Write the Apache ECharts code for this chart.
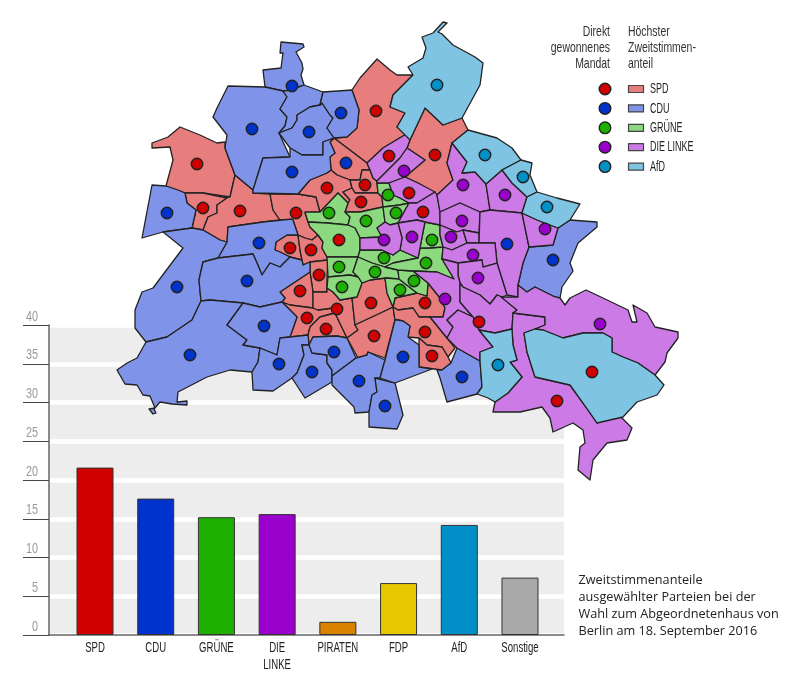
<!DOCTYPE html>
<html>
<head>
<meta charset="utf-8">
<title>Abgeordnetenhaus Berlin 2016</title>
<script src="https://cdn.jsdelivr.net/npm/echarts@6/dist/echarts.min.js"></script>
<style>
html, body { margin: 0; padding: 0; background: #fff; }
#chart { width: 800px; height: 678px; }
</style>
</head>
<body>
<div id="chart"></div>
<script>
// bar chart
var partyLabels = ['SPD', 'CDU', 'GRÜNE', 'DIE\nLINKE', 'PIRATEN', 'FDP', 'AfD', 'Sonstige'];
var voteShares = [21.6, 17.6, 15.2, 15.6, 1.7, 6.7, 14.2, 7.4];
var barColors = ['#d10000', '#0033cc', '#1eb000', '#9900cc', '#d98200', '#e6c700', '#008fc7', '#a9a9a9'];
var tickValues = [0, 5, 10, 15, 20, 25, 30, 35, 40];

// legend
var legendParties = ['SPD', 'CDU', 'GRÜNE', 'DIE LINKE', 'AfD'];
var fillColors = ['#e87d7d', '#7f94e8', '#8cd97f', '#cc7ae6', '#7fc4e3'];
var dotColors = ['#d10000', '#0033cc', '#1eb000', '#9900cc', '#008fc7'];

// Wahlkreise by highest Zweitstimmen share, outlines in map units
var spdDistricts = [
    [[352,90],[360,78],[377,59],[390,70],[397,75],[413,75],[393,95],[390,107],[405,113],[397,127],[408,133],[383,148],[367,163],[334,138],[347,137],[357,128],[359,110]],
    [[425,108],[443,125],[462,118],[468,130],[452,143],[447,163],[453,180],[437,195],[418,183],[405,177],[425,160],[407,148],[410,140]],
    [[334,138],[367,163],[370,170],[362,170],[360,180],[350,180],[337,175],[331,170],[330,157],[335,153],[330,142]],
    [[152,143],[168,137],[180,127],[200,135],[217,143],[225,142],[225,148],[235,175],[230,197],[203,193],[185,193],[166,186],[173,160],[170,147],[152,148]],
    [[185,193],[203,193],[227,198],[217,205],[217,213],[208,217],[203,230],[192,228],[196,210],[187,203]],
    [[235,175],[253,190],[253,193],[270,194],[273,210],[280,220],[263,222],[228,227],[227,242],[220,240],[203,230],[208,217],[217,213],[217,205],[227,198],[230,197]],
    [[270,194],[298,194],[316,197],[320,212],[305,213],[310,227],[318,235],[312,240],[305,238],[298,235],[293,220],[280,220],[273,210]],
    [[298,194],[310,180],[327,173],[331,170],[337,175],[350,180],[352,188],[343,192],[350,200],[348,203],[338,193],[320,212],[316,197]],
    [[350,180],[360,180],[362,170],[370,170],[373,178],[377,181],[377,183],[378,193],[362,193],[355,193],[352,188]],
    [[343,192],[352,188],[355,193],[378,193],[382,197],[383,207],[360,212],[345,212],[348,203],[350,200]],
    [[276,242],[287,235],[298,235],[300,250],[302,260],[290,257],[280,252],[275,250]],
    [[298,235],[305,238],[312,240],[318,235],[323,242],[322,248],[327,257],[328,260],[310,262],[303,265],[302,260],[300,250]],
    [[310,262],[328,260],[327,277],[327,292],[313,292],[310,272]],
    [[280,292],[310,272],[313,292],[313,308],[290,305],[282,302],[285,298]],
    [[282,302],[290,305],[313,308],[318,310],[333,308],[335,313],[320,317],[310,327],[308,335],[290,337],[297,317]],
    [[320,317],[335,313],[347,338],[337,336],[313,337],[309,345],[308,335],[310,327]],
    [[313,292],[327,292],[327,288],[333,292],[340,300],[352,298],[355,325],[358,330],[347,338],[335,313],[333,308],[318,310],[313,308]],
    [[352,298],[357,297],[362,283],[370,280],[385,278],[387,293],[393,307],[387,310],[355,325]],
    [[355,325],[387,310],[393,307],[395,320],[385,358],[368,352],[367,355],[358,358],[347,338],[358,330]],
    [[393,307],[395,298],[417,293],[427,296],[428,283],[440,298],[445,308],[443,317],[419,317],[413,308],[398,310]],
    [[393,307],[398,310],[413,308],[419,317],[430,317],[455,348],[448,357],[442,347],[427,345],[419,338],[408,337],[410,326],[403,321],[398,320],[395,320]],
    [[419,338],[427,345],[442,347],[448,357],[451,363],[442,370],[419,367],[419,358]]
];
var cduDistricts = [
    [[281,42],[303,44],[304,47],[296,52],[302,63],[303,69],[301,75],[304,85],[297,87],[292,90],[283,91],[265,87],[263,70],[281,68],[283,53],[280,53]],
    [[228,86],[265,87],[283,91],[287,97],[280,109],[287,117],[285,126],[279,133],[290,157],[263,158],[253,190],[235,175],[225,148],[227,135],[213,117],[217,108]],
    [[283,91],[292,90],[304,85],[323,92],[320,105],[310,107],[297,115],[297,120],[292,128],[279,133],[285,126],[287,117],[280,109],[287,97]],
    [[279,133],[292,128],[297,120],[297,115],[310,107],[320,105],[322,103],[330,115],[333,118],[327,128],[334,138],[323,142],[323,155],[302,155],[290,148]],
    [[323,92],[352,90],[359,110],[357,128],[347,137],[334,138],[327,128],[333,118],[330,115],[322,103],[320,105]],
    [[290,148],[302,155],[323,155],[323,142],[334,138],[330,142],[335,153],[330,157],[331,170],[327,173],[310,180],[298,194],[253,193],[253,190],[263,158],[290,157]],
    [[152,185],[166,186],[178,190],[185,193],[187,203],[196,210],[192,228],[163,232],[142,238]],
    [[228,227],[263,222],[292,219],[293,220],[298,235],[287,235],[276,242],[275,250],[280,252],[290,257],[285,262],[280,267],[270,263],[262,275],[257,263],[253,254],[218,258],[227,242]],
    [[163,232],[183,248],[153,288],[142,292],[135,310],[135,328],[146,342],[167,337],[192,320],[201,301],[199,280],[203,262],[218,258],[227,242],[220,240],[203,230],[192,228]],
    [[203,262],[218,258],[253,254],[257,263],[262,275],[270,263],[280,267],[285,262],[290,257],[302,260],[303,265],[310,262],[310,272],[280,292],[285,298],[282,302],[260,307],[243,303],[210,300],[201,301],[199,280]],
    [[201,301],[210,300],[243,303],[227,325],[247,340],[243,345],[260,348],[258,362],[252,372],[230,370],[207,377],[178,392],[177,402],[187,401],[187,405],[172,404],[160,402],[154,409],[156,413],[153,414],[149,409],[155,408],[150,396],[143,395],[137,385],[125,384],[117,370],[127,363],[137,358],[146,342],[167,337],[192,320]],
    [[243,303],[260,307],[282,302],[297,317],[290,337],[280,338],[277,355],[260,348],[243,345],[247,340],[227,325]],
    [[280,338],[290,337],[308,335],[309,345],[302,345],[304,355],[297,373],[292,378],[273,391],[253,390],[252,372],[258,362],[260,348],[277,355]],
    [[302,345],[309,345],[312,353],[327,355],[327,363],[332,370],[332,382],[305,398],[292,378],[297,373],[304,355]],
    [[309,345],[313,337],[337,336],[347,338],[356,358],[332,376],[332,370],[327,363],[327,355],[312,353]],
    [[356,358],[367,355],[368,352],[385,360],[380,378],[375,378],[377,392],[372,395],[369,412],[355,413],[354,407],[332,385],[332,376]],
    [[375,378],[395,383],[403,415],[397,429],[369,427],[369,412],[372,395],[377,392]],
    [[385,360],[395,320],[398,320],[403,321],[410,326],[408,337],[419,345],[419,367],[432,369],[395,383],[380,378]],
    [[437,370],[442,370],[451,363],[457,348],[480,361],[482,387],[477,394],[447,402],[440,378]],
    [[570,220],[597,222],[597,227],[578,243],[570,263],[573,271],[562,287],[560,298],[553,296],[535,287],[527,292],[518,285],[523,263],[529,247],[553,245],[558,228]]
];
var grueneDistricts = [
    [[305,212],[320,212],[338,193],[348,203],[345,212],[350,217],[348,225],[327,223],[308,222]],
    [[345,212],[360,212],[383,207],[385,222],[377,228],[382,237],[360,238],[355,228],[348,225],[350,217]],
    [[308,222],[327,223],[348,225],[355,228],[360,238],[360,250],[358,257],[327,257],[322,248],[323,242],[318,235],[310,227]],
    [[377,183],[389,183],[393,195],[400,198],[409,203],[400,205],[383,207],[382,197],[378,193]],
    [[383,207],[400,205],[409,203],[398,223],[390,225],[385,222]],
    [[360,250],[382,250],[393,255],[400,250],[418,258],[393,263],[385,267],[372,263],[358,257]],
    [[327,257],[358,257],[353,272],[358,277],[350,275],[328,277]],
    [[358,257],[372,263],[385,267],[398,270],[399,279],[385,278],[370,280],[362,283],[358,277],[353,272]],
    [[328,277],[350,275],[358,277],[362,283],[357,297],[340,300],[333,292],[327,288]],
    [[385,278],[399,279],[417,293],[395,298],[393,307],[387,293]],
    [[398,270],[413,271],[428,283],[427,296],[417,293],[399,279]],
    [[385,267],[393,263],[418,258],[420,248],[428,248],[443,247],[442,259],[454,279],[437,272],[413,271],[398,270]],
    [[425,222],[440,225],[440,235],[443,247],[428,248],[420,248],[423,232]]
];
var linkeDistricts = [
    [[367,163],[383,148],[408,133],[410,140],[407,148],[400,158],[377,181],[373,178],[370,170]],
    [[377,181],[400,158],[407,148],[425,160],[405,177],[389,183],[377,183]],
    [[389,183],[405,177],[418,183],[435,192],[417,203],[409,203],[400,198],[393,195]],
    [[398,223],[409,203],[417,203],[435,192],[437,195],[440,212],[440,225],[425,222],[417,220]],
    [[452,143],[467,162],[462,173],[475,172],[486,184],[490,210],[480,212],[460,203],[440,212],[437,195],[453,180],[447,163]],
    [[486,184],[502,170],[512,183],[527,197],[522,213],[490,210]],
    [[440,212],[460,203],[480,212],[479,233],[463,230],[457,232],[440,225]],
    [[440,225],[457,232],[463,230],[467,243],[452,250],[443,247],[440,235]],
    [[463,230],[479,233],[479,243],[467,243]],
    [[480,212],[490,210],[522,213],[529,247],[523,263],[518,285],[518,297],[507,295],[497,263],[495,243],[479,243]],
    [[522,213],[537,220],[558,228],[553,245],[529,247]],
    [[443,247],[452,250],[467,243],[479,243],[495,243],[497,263],[483,267],[482,260],[458,263],[442,259]],
    [[458,263],[482,260],[483,267],[497,263],[507,295],[502,297],[497,295],[490,304],[480,295],[463,287],[460,283],[458,275]],
    [[413,271],[437,272],[454,279],[442,259],[458,263],[458,275],[460,283],[460,302],[473,317],[458,310],[447,320],[453,327],[447,338],[430,317],[443,317],[445,308],[440,298],[428,283]],
    [[460,283],[463,287],[480,295],[490,304],[497,295],[502,297],[517,310],[513,313],[512,329],[495,333],[479,330],[473,317],[460,302]],
    [[458,310],[473,317],[479,330],[493,347],[480,352],[480,361],[457,348],[447,338],[453,327],[447,320]],
    [[398,223],[417,220],[425,222],[423,232],[420,248],[418,258],[400,250],[402,238]],
    [[377,228],[385,222],[390,225],[398,223],[402,238],[400,250],[393,255],[382,250],[360,250],[360,238],[382,237]],
    [[513,313],[545,317],[545,325],[535,329],[524,333],[527,352],[535,377],[570,385],[588,410],[597,423],[620,416],[632,428],[627,440],[607,443],[593,460],[590,480],[578,470],[580,447],[585,443],[583,430],[573,423],[553,432],[550,418],[542,407],[520,412],[493,412],[495,402],[508,393],[522,377],[510,362],[517,360],[513,345],[512,329]],
    [[501,297],[518,297],[518,285],[527,292],[535,287],[553,296],[560,298],[565,305],[570,298],[586,290],[603,298],[628,310],[632,322],[637,322],[633,305],[647,313],[655,327],[678,332],[678,338],[667,353],[665,362],[655,375],[638,363],[623,357],[612,352],[612,338],[603,333],[583,333],[563,338],[543,330],[535,329],[545,325],[545,317],[513,313],[517,310]]
];
var afdDistricts = [
    [[443,22],[447,23],[438,32],[442,34],[453,45],[475,57],[483,63],[480,85],[462,118],[443,125],[425,108],[410,140],[397,127],[405,113],[390,107],[393,95],[413,75],[408,67],[423,58],[426,48],[422,37],[433,33]],
    [[452,143],[468,130],[497,138],[512,148],[521,160],[502,170],[486,184],[475,172],[462,173],[467,162]],
    [[502,170],[521,160],[532,163],[530,175],[537,192],[527,197],[512,183]],
    [[527,197],[537,192],[557,198],[580,204],[570,220],[558,228],[537,220],[522,213]],
    [[479,330],[495,333],[512,329],[513,345],[517,360],[510,362],[522,377],[508,393],[495,402],[488,398],[477,394],[482,387],[480,361],[480,352],[493,347]],
    [[524,333],[535,329],[543,330],[563,338],[583,333],[603,333],[612,338],[612,352],[623,357],[638,363],[655,375],[664,385],[657,395],[637,402],[623,417],[597,423],[588,410],[570,385],[535,377],[527,352]]
];

// direkt gewonnene Mandate
var spdMandates = [[376,111],[435,155],[389,156],[409,193],[423,212],[197,164],[203,208],[240,211],[296,213],[327,188],[365,185],[361,202],[339,240],[290,248],[311,250],[319,275],[300,291],[307,318],[326,329],[337,309],[371,303],[374,336],[425,303],[425,332],[432,356],[479,322],[557,401],[592,372]];
var cduMandates = [[292,86],[252,129],[341,113],[309,132],[292,172],[346,163],[167,213],[259,243],[177,287],[247,281],[190,355],[264,326],[279,364],[312,372],[334,352],[359,381],[385,406],[403,357],[462,377],[507,244],[553,260]];
var grueneMandates = [[329,213],[366,221],[388,195],[396,213],[384,258],[339,267],[375,272],[342,287],[400,290],[414,281],[426,263],[432,240]];
var linkeMandates = [[404,171],[463,185],[505,195],[462,221],[545,229],[384,240],[412,237],[451,237],[473,255],[478,278],[445,299],[600,324]];
var afdMandates = [[437,85],[485,155],[523,177],[547,207],[498,365]];

var allDistricts = [spdDistricts, cduDistricts, grueneDistricts, linkeDistricts, afdDistricts];
var allMandates = [spdMandates, cduMandates, grueneMandates, linkeMandates, afdMandates];

// no condensed face installed, so squeeze Liberation Sans horizontally
var narrow = '"Liberation Sans", sans-serif';
var outline = '#222';

function districtSeries(districts, fill) {
    return {
        type: 'custom',
        xAxisIndex: 2,
        yAxisIndex: 2,
        clip: false,
        silent: true,
        z: 5,
        data: districts.map(function (d, i) { return [i]; }),
        renderItem: function (params, api) {
            var pts = districts[params.dataIndex].map(function (p) {
                return api.coord(p);
            });
            return {
                type: 'polygon',
                shape: { points: pts },
                style: { fill: fill, stroke: outline, lineWidth: 1.3, lineJoin: 'round' }
            };
        }
    };
}

function mandateSeries(points, color) {
    return {
        type: 'scatter',
        xAxisIndex: 2,
        yAxisIndex: 2,
        silent: true,
        z: 6,
        symbolSize: 11.5,
        data: points,
        itemStyle: { color: color, opacity: 1, borderColor: outline, borderWidth: 1.4 }
    };
}

var series = [{
    type: 'bar',
    xAxisIndex: 1,
    yAxisIndex: 1,
    barWidth: 37,
    silent: true,
    data: voteShares.map(function (v, i) {
        return { value: v, itemStyle: { color: barColors[i], borderColor: '#333', borderWidth: 1 } };
    })
}, {
    // party names under the bars
    type: 'custom',
    xAxisIndex: 1,
    yAxisIndex: 1,
    clip: false,
    silent: true,
    data: partyLabels.map(function (n, i) { return [i, 0]; }),
    renderItem: function (params, api) {
        var p = api.coord([params.dataIndex, 0]);
        return {
            type: 'text', x: p[0], y: p[1] + 5, scaleX: 0.64,
            style: { text: partyLabels[params.dataIndex], fill: '#222', align: 'center', verticalAlign: 'top', lineHeight: 16.3, font: '15px ' + narrow }
        };
    }
}, {
    // tick labels, sitting on top of the tick marks
    type: 'custom',
    xAxisIndex: 0,
    yAxisIndex: 0,
    clip: false,
    silent: true,
    data: tickValues.map(function (v) { return [0, v]; }),
    renderItem: function (params, api) {
        var p = api.coord([0, tickValues[params.dataIndex]]);
        return {
            type: 'text', x: p[0] - 11, y: p[1] - 1, scaleX: 0.72,
            style: { text: String(tickValues[params.dataIndex]), fill: '#999', align: 'right', verticalAlign: 'bottom', font: '15px ' + narrow }
        };
    }
}];
allDistricts.forEach(function (d, i) { series.push(districtSeries(d, fillColors[i])); });
allMandates.forEach(function (m, i) { series.push(mandateSeries(m, dotColors[i])); });

var graphics = [];
function addText(x, y, text, align, font, size, color, squeeze) {
    graphics.push({
        type: 'text', x: x, y: y, scaleX: squeeze, silent: true,
        style: { text: text, fill: color, align: align, verticalAlign: 'middle', font: size + 'px ' + font }
    });
}
['Direkt', 'gewonnenes', 'Mandat'].forEach(function (t, i) {
    addText(610, 32 + i * 16, t, 'right', narrow, 14.5, '#333', 0.72);
});
['Höchster', 'Zweitstimmen-', 'anteil'].forEach(function (t, i) {
    addText(628, 32 + i * 16, t, 'left', narrow, 14.5, '#333', 0.72);
});
legendParties.forEach(function (name, i) {
    var y = 89 + i * 19.4;
    graphics.push({
        type: 'circle', silent: true, shape: { cx: 605, cy: y, r: 5.8 },
        style: { fill: dotColors[i], stroke: outline, lineWidth: 1.4 }
    });
    graphics.push({
        type: 'rect', silent: true, shape: { x: 628.5, y: y - 3.5, width: 15, height: 7 },
        style: { fill: fillColors[i], stroke: '#444', lineWidth: 1.2 }
    });
    addText(650, y, name, 'left', narrow, 15, '#222', 0.6);
});
['Zweitstimmenanteile', 'ausgewählter Parteien bei der', 'Wahl zum Abgeordnetenhaus von', 'Berlin am 18. September 2016'].forEach(function (t, i) {
    addText(578.5, 580.5 + i * 17, t, 'left', '"Open Sans", sans-serif', 12.7, '#222', 1);
});

var chart = echarts.init(document.getElementById('chart'), null, { renderer: 'canvas' });
chart.setOption({
    animation: false,
    backgroundColor: '#fff',
    grid: [
        { left: 49, top: 325, width: 515, height: 310, show: true, backgroundColor: '#ededed', borderWidth: 0 },
        { left: 64.65, top: 325, width: 485.7, height: 310 },
        { left: 0, top: 0, width: 800, height: 678 }
    ],
    xAxis: [
        {
            gridIndex: 0, type: 'value', min: 0, max: 1,
            axisLine: { show: true, onZero: false, lineStyle: { color: '#666', width: 1.5 } },
            axisTick: { show: false }, axisLabel: { show: false }, splitLine: { show: false }
        },
        {
            gridIndex: 1, type: 'category', data: partyLabels,
            axisLine: { show: false }, axisTick: { show: false }, axisLabel: { show: false }
        },
        { gridIndex: 2, type: 'value', min: 0, max: 800, show: false }
    ],
    yAxis: [
        {
            gridIndex: 0, type: 'value', min: 0, max: 40, interval: 5,
            axisLine: { show: true, lineStyle: { color: '#666', width: 1.5 } },
            axisTick: { show: true, length: 26, lineStyle: { color: '#444', width: 1 } },
            axisLabel: { show: false },
            splitLine: { show: true, lineStyle: { color: '#fff', width: 4.5 } }
        },
        { gridIndex: 1, type: 'value', min: 0, max: 40, show: false },
        { gridIndex: 2, type: 'value', min: 0, max: 678, inverse: true, show: false }
    ],
    graphic: graphics,
    series: series
});
</script>
</body>
</html>
